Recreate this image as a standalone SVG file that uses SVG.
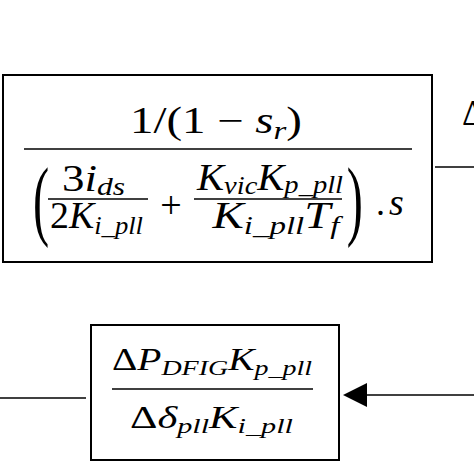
<svg xmlns="http://www.w3.org/2000/svg" width="474" height="474" viewBox="0 0 474 474">
<style>
.box{fill:#fff;stroke:#000;stroke-width:2}
.fl{stroke:#000;stroke-width:1.6}
.t{font-family:"Liberation Serif","DejaVu Serif",serif;fill:#000}
.i{font-style:italic}
.c{stroke:#000;stroke-width:1.6;fill:none}
</style>
<rect width="474" height="474" fill="#fff"/>
<g id="connectors">
<line class="c" x1="435" y1="167" x2="474" y2="167"/>
<line class="c" x1="0" y1="398" x2="86" y2="398"/>
<line class="c" x1="474" y1="395" x2="365" y2="395"/>
<path d="M343,395 L367,383 L367,407 Z" fill="#000"/>
</g>
<g id="node-top">
<rect class="box" x="3" y="75" width="429" height="187"/>
<text class="t" x="216" y="133" text-anchor="middle" font-size="37" textLength="172" lengthAdjust="spacingAndGlyphs">1/(1 − <tspan class="i">s</tspan><tspan class="i" font-size="26" dy="6">r</tspan><tspan dy="-6">)</tspan></text>
<line class="fl" x1="24" y1="149" x2="412" y2="149"/>
<text class="t" x="33" y="229" font-size="88" transform="translate(33 0) scale(0.55 1) translate(-33 0)">(</text>
<text class="t" x="93.5" y="191" text-anchor="middle" font-size="37" textLength="63" lengthAdjust="spacingAndGlyphs">3<tspan class="i">i</tspan><tspan class="i" font-size="26" dy="4">ds</tspan></text>
<line class="fl" x1="48" y1="199" x2="148" y2="199"/>
<text class="t" x="96.5" y="228" text-anchor="middle" font-size="37" textLength="93" lengthAdjust="spacingAndGlyphs">2<tspan class="i">K</tspan><tspan class="i" font-size="26" dy="6">i_pll</tspan></text>
<text class="t" x="171" y="218" text-anchor="middle" font-size="38">+</text>
<text class="t" x="270" y="190" text-anchor="middle" font-size="37" textLength="146" lengthAdjust="spacingAndGlyphs"><tspan class="i">K</tspan><tspan class="i" font-size="26" dy="4">vic</tspan><tspan class="i" dy="-4">K</tspan><tspan class="i" font-size="26" dy="3">p_pll</tspan></text>
<line class="fl" x1="194" y1="199" x2="342" y2="199"/>
<text class="t" x="276" y="228" text-anchor="middle" font-size="37" textLength="127" lengthAdjust="spacingAndGlyphs"><tspan class="i">K</tspan><tspan class="i" font-size="26" dy="6">i_pll</tspan><tspan class="i" dy="-6">T</tspan><tspan class="i" font-size="26" dy="6">f</tspan></text>
<text class="t" x="363" y="229" font-size="88" transform="translate(363 0) scale(0.55 1) translate(-363 0)" text-anchor="end">)</text>
<text class="t" x="376" y="215" font-size="36">.</text>
<text class="t i" x="389" y="215" font-size="38">s</text>
</g>
<g id="node-right-partial">
<text class="t" x="462" y="125" font-size="36">Δ</text>
</g>
<g id="node-bottom">
<rect class="box" x="91" y="325" width="248" height="135"/>
<text class="t" x="212" y="370" text-anchor="middle" font-size="31" textLength="200" lengthAdjust="spacingAndGlyphs">Δ<tspan class="i">P</tspan><tspan class="i" font-size="22" dy="5">DFIG</tspan><tspan class="i" dy="-5">K</tspan><tspan class="i" font-size="22" dy="5">p_pll</tspan></text>
<line class="fl" x1="112" y1="389" x2="313" y2="389"/>
<text class="t" x="211.5" y="428" text-anchor="middle" font-size="31" textLength="163" lengthAdjust="spacingAndGlyphs">Δ<tspan class="i">δ</tspan><tspan class="i" font-size="22" dy="5">pll</tspan><tspan class="i" dy="-5">K</tspan><tspan class="i" font-size="22" dy="5">i_pll</tspan></text>
</g>
</svg>
